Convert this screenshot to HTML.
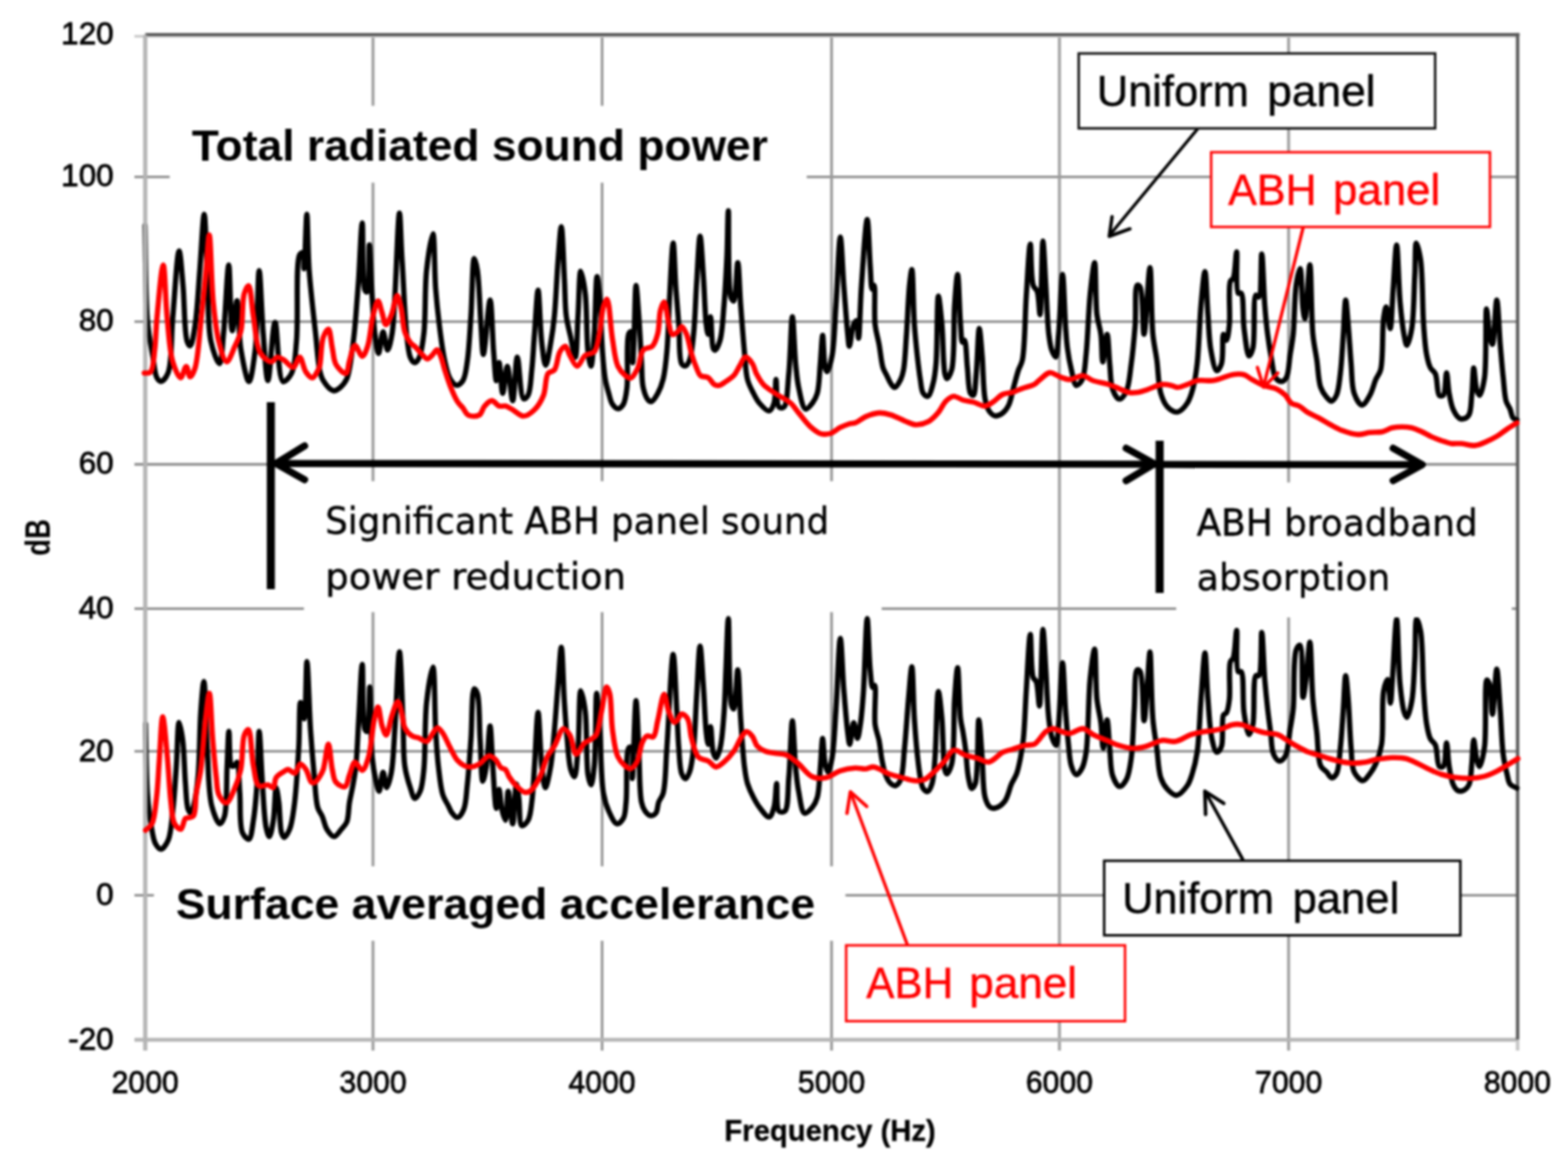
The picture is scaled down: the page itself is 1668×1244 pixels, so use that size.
<!DOCTYPE html>
<html><head><meta charset="utf-8"><title>Sound power and accelerance</title>
<style>html,body{margin:0;padding:0;background:#fff;}svg{display:block;}#w{filter:blur(1px);}</style>
</head><body><div id="w">
<svg width="1668" height="1244" viewBox="0 0 1668 1244">
<rect x="0" y="0" width="1668" height="1244" fill="#fff"/>
<line x1="143" y1="188.3" x2="1614.4" y2="188.3" stroke="#888888" stroke-width="2.6"/>
<line x1="143" y1="342.2" x2="1614.4" y2="342.2" stroke="#888888" stroke-width="2.6"/>
<line x1="143" y1="494.1" x2="1614.4" y2="494.1" stroke="#888888" stroke-width="2.6"/>
<line x1="143" y1="647.7" x2="1614.4" y2="647.7" stroke="#888888" stroke-width="2.6"/>
<line x1="143" y1="799.5" x2="1614.4" y2="799.5" stroke="#888888" stroke-width="2.6"/>
<line x1="143" y1="952.8" x2="1614.4" y2="952.8" stroke="#888888" stroke-width="2.6"/>
<line x1="143" y1="1106.5" x2="1614.4" y2="1106.5" stroke="#888888" stroke-width="2.6"/>
<line x1="396.8" y1="37.3" x2="396.8" y2="1118" stroke="#9c9c9c" stroke-width="3"/>
<line x1="640.5" y1="37.3" x2="640.5" y2="1118" stroke="#9c9c9c" stroke-width="3"/>
<line x1="884.6" y1="37.3" x2="884.6" y2="1118" stroke="#9c9c9c" stroke-width="3"/>
<line x1="1127.0" y1="37.3" x2="1127.0" y2="1118" stroke="#9c9c9c" stroke-width="3"/>
<line x1="1370.8" y1="37.3" x2="1370.8" y2="1118" stroke="#9c9c9c" stroke-width="3"/>
<line x1="143" y1="1106.5" x2="1614.4" y2="1106.5" stroke="#b4b4b4" stroke-width="4"/>
<line x1="143" y1="38.6" x2="1614.4" y2="38.6" stroke="#c8c8c8" stroke-width="2.6"/>
<line x1="154.5" y1="36.8" x2="1616.4" y2="36.8" stroke="#4c4c4c" stroke-width="3"/>
<line x1="1614.4" y1="35.3" x2="1614.4" y2="1106.5" stroke="#5a5a5a" stroke-width="3.6"/>
<line x1="1614.4" y1="1106.5" x2="1614.4" y2="1118" stroke="#c4c4c4" stroke-width="3.6"/>
<path d="M154.3,240.0C154.7,256.8 154.5,315.2 156.8,341.0C158.2,357.1 160.8,368.9 162.7,380.0C164.1,388.4 164.6,397.8 166.9,402.0C168.1,404.1 169.5,406.1 171.1,406.0C173.3,405.9 176.7,401.8 178.7,397.0C183.2,386.3 181.9,358.6 183.8,338.0C185.8,315.4 188.4,267.0 190.5,267.0C192.0,267.0 193.4,290.2 194.7,304.0C196.3,321.4 196.0,354.3 199.0,363.0C199.9,365.8 201.3,368.2 202.3,368.0C204.3,367.7 206.0,355.8 207.4,347.0C209.8,332.4 210.9,307.8 212.5,288.0C214.1,268.1 215.9,228.0 217.2,228.0C218.7,228.0 219.6,280.3 220.9,304.0C222.0,324.9 221.0,347.9 224.3,363.0C226.4,373.0 231.3,387.3 233.5,387.0C236.0,386.7 236.5,367.9 237.8,355.0C239.8,335.6 241.8,282.0 243.3,282.0C244.8,282.0 245.0,351.9 247.0,352.0C248.4,352.1 250.7,319.9 252.1,320.0C253.9,320.1 253.8,356.6 256.3,372.0C258.4,384.6 262.3,406.1 264.8,406.0C267.3,405.9 269.8,385.9 271.5,372.0C274.2,350.3 274.2,288.0 275.7,288.0C277.0,288.0 278.3,334.3 280.0,355.0C281.5,372.9 283.0,405.0 285.0,405.0C287.2,405.0 289.9,343.0 292.6,343.0C295.3,343.0 295.4,404.1 301.0,406.0C303.5,406.9 308.0,401.5 310.3,397.0C314.1,389.7 314.1,377.1 315.4,363.0C317.6,339.9 314.1,278.9 318.8,271.0C319.8,269.4 321.4,268.6 322.2,269.0C323.9,269.9 323.0,286.0 323.5,286.0C324.4,286.0 325.5,228.0 326.4,228.0C327.3,228.0 327.4,267.5 328.9,288.0C330.5,309.7 333.6,335.7 335.7,355.0C337.3,369.6 338.0,384.6 340.0,393.6C341.1,398.6 341.7,401.6 343.9,405.1C346.3,409.0 351.2,415.2 354.5,415.8C356.8,416.2 359.1,414.5 361.2,412.9C364.0,410.8 366.8,407.9 368.9,403.2C372.6,394.9 374.0,376.6 375.7,364.6C377.1,354.3 377.7,346.0 378.6,335.7C379.6,323.8 380.5,311.4 381.5,297.1C382.7,279.4 384.2,237.4 385.3,237.4C386.5,237.4 384.9,302.1 388.2,308.7C388.9,310.1 389.8,310.9 390.5,310.6C393.2,309.4 392.1,260.5 393.0,260.5C393.9,260.5 394.8,299.5 395.9,316.4C396.8,330.5 397.4,344.1 398.8,355.0C399.9,363.1 401.3,376.2 402.7,376.2C404.2,376.2 405.8,353.1 407.5,353.1C409.0,353.1 410.7,372.4 412.3,372.4C413.9,372.4 415.9,362.0 417.1,355.0C418.9,344.7 419.0,331.9 420.0,316.4C421.5,292.7 423.5,226.8 424.9,226.8C426.0,226.8 426.4,258.0 427.8,277.9C429.8,306.1 431.1,367.2 436.4,380.1C437.9,383.6 439.7,385.9 441.3,385.9C442.9,385.9 444.8,383.0 446.1,380.1C448.6,374.8 449.7,365.5 450.9,355.0C452.9,338.0 451.7,306.8 453.8,287.5C455.4,272.8 458.9,248.8 460.5,248.9C462.4,249.0 462.1,289.5 463.4,306.8C464.5,321.0 465.7,332.6 467.3,345.4C468.9,358.3 470.7,373.3 473.1,383.9C474.8,391.5 476.2,398.6 478.9,403.2C480.8,406.3 483.3,409.8 485.6,410.0C487.8,410.2 490.6,407.8 492.4,405.1C495.3,400.8 495.9,392.5 497.2,383.9C499.1,371.1 499.8,352.7 501.0,335.7C502.3,316.6 502.5,275.2 504.5,275.0C505.4,274.9 506.9,281.7 507.8,287.5C509.8,299.7 510.4,329.0 511.6,345.4C512.5,357.6 513.0,377.2 514.2,377.2C515.9,377.2 519.5,319.3 521.3,319.3C523.1,319.3 523.8,358.6 525.1,374.3C526.1,386.1 526.9,405.1 528.0,405.1C528.9,405.1 529.9,385.9 530.9,385.9C532.2,385.9 533.3,418.6 534.8,418.6C536.2,418.6 537.9,389.7 539.6,389.7C541.5,389.7 543.7,426.4 545.4,426.4C547.3,426.4 548.3,380.1 550.3,380.1C552.2,380.1 553.2,422.9 557.0,424.4C558.4,424.9 560.5,422.8 561.8,420.6C564.5,415.9 564.6,403.4 565.7,393.6C567.0,381.9 567.5,368.4 568.6,355.0C569.8,340.3 571.2,308.7 572.4,308.7C573.7,308.7 574.5,349.8 576.3,364.6C577.5,374.4 578.9,388.8 580.5,388.8C582.1,388.8 584.4,373.1 585.9,364.6C587.5,355.4 588.7,347.0 589.8,335.7C591.4,319.8 592.2,295.0 593.6,277.9C594.7,264.3 596.1,241.2 597.1,241.2C598.4,241.2 599.5,280.2 600.4,297.1C601.2,311.2 600.9,324.5 602.3,335.7C603.4,344.5 605.4,351.4 607.1,358.9C608.7,366.1 610.8,380.2 612.0,380.1C613.8,380.0 613.9,350.7 614.9,335.7C615.9,320.2 616.1,288.6 617.8,288.5C619.0,288.4 621.4,302.7 622.6,312.6C624.5,328.4 623.8,360.6 625.5,374.3C626.4,381.2 627.7,389.7 628.7,389.7C630.1,389.6 631.2,368.2 632.2,355.0C633.5,337.6 633.7,294.4 635.1,294.3C635.9,294.3 637.2,307.3 638.0,316.4C639.3,331.1 639.7,358.3 640.9,374.3C641.7,385.6 642.4,395.1 643.8,403.2C644.8,409.2 646.2,413.9 647.6,418.6C648.8,422.8 649.5,427.4 651.5,430.2C653.0,432.4 655.4,435.0 657.3,435.0C659.2,435.0 661.6,432.7 663.1,430.2C665.4,426.4 666.0,420.4 666.9,412.9C668.6,399.3 665.6,360.9 668.9,355.0C669.7,353.6 671.0,352.7 671.8,353.1C674.2,354.3 672.6,385.9 673.1,385.9C673.6,385.9 674.1,366.6 674.6,355.0C675.3,340.1 675.6,303.9 676.6,303.9C677.4,303.9 678.6,324.0 679.5,335.7C680.6,350.1 681.5,369.9 682.4,383.9C683.1,394.8 682.4,405.2 684.3,412.9C685.6,418.4 688.0,424.5 690.1,426.4C691.0,427.2 692.0,427.6 693.0,427.3C695.0,426.7 697.8,422.1 699.7,418.6C702.1,414.3 704.0,409.2 705.5,403.2C707.5,395.2 708.4,385.6 709.4,374.3C710.9,358.3 711.2,335.7 712.3,316.4C713.4,297.1 714.9,258.6 716.1,258.6C717.2,258.6 717.9,291.6 719.0,306.8C720.0,320.4 721.1,332.3 722.1,345.4C723.2,359.1 721.8,382.1 725.2,387.2C726.3,388.9 728.1,389.6 729.4,389.3C731.0,388.9 732.4,386.0 733.6,383.0C735.8,377.3 736.7,366.4 737.8,355.8C739.4,341.2 739.8,321.0 740.9,303.6C742.1,286.2 743.4,251.3 744.7,251.3C745.9,251.3 747.1,278.4 748.2,293.1C749.4,309.6 749.9,334.7 751.3,345.4C751.9,350.2 752.7,355.8 753.4,355.8C754.3,355.8 755.1,337.0 755.9,337.0C756.9,337.0 756.7,366.1 758.7,370.5C759.3,371.8 760.0,372.7 760.8,372.6C762.3,372.4 764.6,366.8 766.0,362.1C768.5,353.6 769.0,338.1 770.2,324.5C771.6,308.5 772.5,289.3 773.3,272.2C774.0,255.9 774.2,224.2 774.8,224.2C775.6,224.2 773.8,305.5 777.5,316.1C778.4,318.6 779.7,320.5 780.6,320.3C783.1,319.6 783.6,279.6 784.8,279.6C786.1,279.6 786.7,309.0 787.9,324.5C789.2,341.2 790.7,362.1 792.1,376.7C793.1,387.2 793.2,396.4 795.2,403.9C796.7,409.7 799.2,414.1 801.5,418.5C803.5,422.4 805.1,425.9 807.8,429.0C810.6,432.2 815.5,437.8 818.2,437.3C820.5,436.9 822.2,432.7 823.4,429.0C825.4,423.1 824.7,403.9 825.5,403.9C826.4,403.9 825.5,430.3 828.7,433.2C830.1,434.4 832.5,434.4 833.9,433.2C837.7,429.9 837.7,411.1 839.1,397.6C840.9,380.1 841.6,337.0 842.9,337.0C844.1,337.0 845.0,373.4 846.4,387.2C847.4,397.0 847.8,404.2 849.6,412.3C851.3,420.2 853.6,434.4 856.9,435.3C859.0,435.9 862.2,431.6 864.2,429.0C866.4,426.1 868.1,423.1 869.4,418.5C871.6,411.0 871.6,397.6 872.6,387.2C873.5,377.0 874.3,356.9 875.1,356.9C876.0,356.9 876.2,385.6 877.8,391.4C878.4,393.5 879.1,395.6 879.9,395.5C881.4,395.4 883.7,386.1 885.1,378.8C887.6,366.0 887.9,343.9 889.3,324.5C890.9,302.2 892.4,252.4 893.9,252.4C895.2,252.4 896.3,286.5 897.6,303.6C898.9,320.9 900.6,344.3 901.8,355.8C902.4,361.4 902.7,368.4 903.5,368.4C904.6,368.4 906.1,349.9 908.1,345.4C909.0,343.3 910.4,341.0 911.2,341.2C912.7,341.6 912.6,360.0 913.3,360.0C914.4,360.0 915.0,323.4 916.4,303.6C918.0,281.5 920.9,233.6 922.5,233.6C923.9,233.6 924.7,269.1 925.7,282.7C926.4,292.5 926.5,307.5 927.8,307.8C928.4,307.9 929.3,303.5 929.9,303.6C931.5,304.0 929.6,333.9 930.9,345.4C931.8,353.6 933.8,359.0 935.1,366.3C936.6,374.3 937.4,385.4 939.3,391.4C940.5,395.0 942.0,396.9 943.4,399.7C944.8,402.5 946.0,405.9 947.6,408.1C948.9,409.9 950.3,412.4 951.8,412.3C953.8,412.2 956.5,407.0 958.1,403.9C959.7,400.7 960.3,398.1 961.2,393.5C962.8,384.9 963.3,369.4 964.3,355.8C965.4,339.8 966.2,316.2 967.5,303.6C968.3,296.5 969.3,286.9 970.0,286.9C971.3,287.0 971.5,328.6 972.7,345.4C973.6,358.1 974.7,368.5 975.8,378.8C976.8,387.8 977.8,396.7 979.0,403.9C979.9,409.4 980.0,415.6 982.1,418.5C983.4,420.4 985.8,422.2 987.3,421.7C989.6,420.9 991.2,413.2 992.6,408.1C994.2,402.0 994.9,396.3 995.7,387.2C997.2,370.4 996.7,315.2 998.2,315.1C999.2,315.1 1000.9,333.9 1002.0,345.4C1003.4,360.4 1003.2,389.3 1005.1,397.6C1005.7,400.4 1006.3,402.8 1007.2,402.9C1008.5,403.0 1011.0,398.3 1012.4,393.5C1015.8,381.3 1014.2,343.2 1015.5,324.5C1016.4,311.7 1017.7,292.1 1018.7,292.1C1019.9,292.1 1020.7,332.2 1021.8,345.4C1022.5,353.3 1022.4,363.7 1023.9,364.2C1024.5,364.4 1025.4,361.9 1026.0,362.1C1027.9,362.8 1028.0,381.8 1029.1,391.4C1030.1,400.6 1030.0,414.7 1032.3,418.5C1033.2,419.9 1034.5,421.0 1035.4,420.6C1037.5,419.6 1037.6,406.7 1038.5,397.6C1039.8,384.5 1040.5,349.6 1041.7,349.6C1042.6,349.6 1043.9,368.0 1044.8,378.8C1046.0,392.4 1045.8,414.4 1047.9,424.8C1049.0,430.4 1050.0,434.2 1052.1,437.3C1053.8,439.7 1056.0,442.2 1058.4,442.6C1060.9,443.0 1064.3,441.2 1066.7,439.4C1069.3,437.5 1071.3,434.6 1073.0,431.1C1075.4,426.3 1076.5,418.6 1078.2,412.3C1080.0,406.0 1081.7,398.8 1083.5,393.5C1084.9,389.5 1086.5,388.2 1087.6,383.0C1090.4,370.2 1090.3,335.6 1091.8,314.0C1093.1,294.8 1094.7,259.7 1096.0,259.7C1097.1,259.7 1096.4,295.7 1099.1,303.6C1100.2,306.9 1102.2,306.9 1103.3,309.9C1105.3,315.3 1105.5,334.9 1106.4,334.9C1107.9,334.8 1108.2,256.6 1109.4,256.6C1110.3,256.6 1111.5,287.5 1112.5,303.6C1113.6,320.5 1114.2,343.2 1115.7,355.8C1116.6,363.0 1117.2,368.3 1118.8,372.6C1119.9,375.7 1121.9,380.1 1123.0,379.9C1124.9,379.5 1125.1,365.8 1126.1,355.8C1127.7,339.6 1129.0,292.1 1130.3,292.1C1131.5,292.1 1132.4,330.9 1133.4,345.4C1134.1,355.3 1134.4,362.3 1135.5,370.5C1136.5,378.4 1138.0,386.5 1139.7,393.5C1141.2,399.6 1142.5,409.6 1144.9,410.2C1146.6,410.6 1149.6,407.1 1151.2,403.9C1154.1,398.3 1154.2,387.7 1155.4,376.7C1157.2,360.1 1157.8,331.8 1159.6,314.0C1161.0,300.8 1163.2,279.5 1164.4,279.6C1165.9,279.7 1165.2,320.9 1166.9,334.9C1168.0,343.6 1170.1,348.2 1171.1,355.8C1172.3,364.7 1172.0,385.1 1173.1,385.1C1174.2,385.1 1176.5,355.8 1177.7,355.8C1179.0,355.8 1179.5,377.1 1180.5,387.2C1181.5,396.6 1181.1,407.7 1183.6,414.4C1185.3,419.0 1188.4,424.7 1190.9,424.8C1193.3,424.9 1196.3,420.4 1198.2,416.4C1201.3,409.9 1201.9,397.8 1203.4,387.2C1205.2,374.5 1206.5,359.3 1207.6,345.4C1208.6,331.5 1206.8,305.1 1209.7,303.6C1210.6,303.2 1212.0,304.2 1212.9,305.7C1216.2,311.3 1215.5,355.8 1217.0,355.8C1218.8,355.8 1221.7,284.8 1223.3,284.8C1224.9,284.8 1224.6,337.7 1226.4,355.8C1227.5,367.0 1229.3,373.3 1230.6,383.0C1232.1,394.0 1232.1,409.4 1234.8,418.5C1236.6,424.7 1238.7,429.8 1242.1,433.2C1244.9,436.0 1249.3,438.9 1252.6,438.4C1256.3,437.9 1260.3,433.0 1263.0,429.0C1266.1,424.5 1267.6,418.5 1269.3,412.3C1271.3,404.9 1272.3,397.5 1273.5,387.2C1275.4,371.0 1276.0,342.4 1277.6,324.5C1278.8,311.0 1280.6,289.0 1281.8,289.0C1283.1,289.0 1283.9,320.4 1285.0,334.9C1286.0,348.1 1286.1,361.8 1288.1,372.6C1289.6,381.0 1291.9,394.1 1294.4,394.5C1295.9,394.7 1298.2,390.7 1299.4,387.2C1301.7,380.6 1299.8,356.1 1301.5,355.8C1302.3,355.6 1303.7,362.2 1304.6,362.1C1306.0,361.9 1307.1,352.4 1307.8,345.4C1309.0,333.9 1306.2,305.6 1308.8,299.4C1309.6,297.5 1311.0,298.1 1311.9,296.3C1314.1,291.8 1314.6,268.1 1315.5,268.1C1316.6,268.1 1314.0,308.9 1317.2,312.0C1318.0,312.8 1319.4,311.2 1320.3,312.0C1323.3,314.8 1321.9,337.9 1323.4,349.6C1324.8,360.0 1326.5,378.5 1328.7,378.8C1329.9,379.0 1331.7,374.7 1332.8,370.5C1335.5,360.2 1332.6,315.7 1336.0,314.0C1336.9,313.6 1338.2,316.5 1339.1,316.1C1342.1,314.6 1341.2,270.2 1342.2,270.2C1343.3,270.2 1344.2,308.9 1345.4,324.5C1346.3,336.4 1347.2,345.7 1348.5,355.8C1349.7,365.2 1351.2,374.8 1352.7,383.0C1354.0,389.9 1354.3,398.0 1356.9,401.8C1358.5,404.2 1361.1,406.1 1363.1,406.0C1365.0,405.9 1367.0,404.2 1368.4,401.8C1371.1,397.2 1371.2,384.7 1372.5,376.7C1373.7,369.4 1374.8,364.4 1375.7,355.8C1377.1,342.3 1376.9,316.4 1378.8,303.6C1379.9,296.0 1381.9,285.7 1383.0,285.8C1384.7,285.9 1384.8,319.3 1386.1,328.7C1386.7,333.4 1387.5,339.1 1388.2,339.1C1389.9,339.0 1392.0,281.7 1393.4,281.7C1394.9,281.7 1394.8,337.2 1396.6,355.8C1397.7,367.1 1399.4,373.8 1400.8,383.0C1402.2,392.6 1402.4,405.2 1404.9,412.3C1406.5,416.9 1409.0,420.1 1411.2,422.7C1412.9,424.6 1414.7,427.1 1416.4,426.9C1418.2,426.7 1420.3,423.6 1421.7,420.6C1424.1,415.5 1424.7,406.4 1425.8,397.6C1427.3,385.8 1428.0,369.3 1429.0,355.8C1429.9,343.2 1430.5,319.3 1431.5,319.3C1432.3,319.3 1433.3,335.7 1434.2,345.4C1435.3,357.7 1436.2,374.3 1437.3,387.2C1438.3,398.4 1437.7,410.6 1440.5,418.5C1442.4,423.9 1445.9,431.0 1448.8,431.1C1451.5,431.2 1454.9,424.7 1457.2,420.6C1459.9,415.9 1461.4,408.8 1463.5,403.9C1465.2,400.0 1467.4,398.5 1468.7,393.5C1471.6,382.6 1470.2,350.8 1471.8,339.1C1472.6,333.4 1473.6,326.6 1474.6,326.6C1475.9,326.6 1477.7,349.8 1478.8,349.7C1480.3,349.6 1480.9,322.2 1482.0,307.8C1483.2,292.6 1484.5,260.8 1485.7,260.8C1487.0,260.8 1487.8,303.1 1489.3,320.4C1490.5,333.8 1491.9,347.4 1493.5,355.9C1494.5,360.8 1495.4,367.4 1496.6,367.4C1498.1,367.4 1500.5,357.4 1501.8,349.7C1504.1,336.3 1504.1,309.7 1505.0,293.2C1505.7,280.3 1505.2,258.8 1506.6,258.7C1507.7,258.6 1510.0,268.5 1511.2,276.5C1513.5,291.9 1513.1,327.0 1514.4,345.5C1515.3,358.0 1515.9,368.4 1517.5,376.8C1518.6,382.7 1519.7,387.8 1521.7,391.5C1523.1,394.2 1525.5,394.8 1526.9,397.8C1529.3,402.9 1528.4,418.5 1531.1,420.8C1532.3,421.8 1534.2,421.8 1535.3,420.8C1538.0,418.4 1537.7,396.7 1538.8,396.7C1539.8,396.7 1540.3,411.9 1541.6,418.7C1542.7,424.7 1543.7,430.8 1545.7,435.4C1547.4,439.2 1549.8,443.3 1552.0,444.8C1553.4,445.7 1554.7,446.1 1556.2,445.8C1558.2,445.5 1561.0,444.1 1562.5,441.7C1565.1,437.7 1564.8,428.4 1565.6,420.8C1566.6,411.9 1566.8,391.5 1567.7,391.5C1568.5,391.5 1569.2,409.3 1570.8,414.5C1571.7,417.4 1572.9,420.9 1574.0,420.8C1575.8,420.6 1577.9,410.4 1579.2,401.9C1581.6,385.6 1579.9,328.8 1581.3,328.7C1582.1,328.7 1583.1,346.9 1584.4,353.8C1585.3,358.8 1586.6,366.5 1587.6,366.4C1589.5,366.3 1590.8,319.3 1592.2,319.3C1593.6,319.3 1594.7,351.8 1595.9,366.4C1597.0,379.1 1597.9,391.1 1599.1,401.9C1600.1,411.0 1600.4,421.0 1602.2,427.0C1603.3,430.7 1605.2,432.5 1606.4,435.4C1607.6,438.4 1607.9,442.9 1609.5,444.8C1610.6,446.1 1613.0,446.6 1613.7,446.9" fill="none" stroke="#000" stroke-width="5.6" stroke-linejoin="round" stroke-linecap="round"/>
<path d="M154.8,770.6C155.1,782.8 155.4,824.3 156.8,843.9C157.7,857.0 158.9,867.0 160.6,876.7C161.9,884.6 162.8,893.3 165.4,897.9C167.0,900.7 169.2,903.8 171.2,903.7C173.7,903.6 176.9,898.6 178.9,894.1C182.0,887.0 182.4,874.7 183.8,863.2C185.5,848.9 186.5,830.9 187.6,815.0C188.7,799.4 188.9,768.8 190.5,768.7C191.5,768.6 193.4,780.1 194.4,788.0C196.0,800.1 196.2,820.9 197.3,834.3C198.1,844.5 198.2,856.5 200.1,861.3C200.9,863.3 202.1,865.2 203.0,865.1C204.4,864.9 205.8,858.4 206.9,853.6C208.6,846.2 209.8,836.3 210.8,824.6C212.4,806.8 212.3,775.4 213.6,757.1C214.5,744.5 215.9,725.3 216.9,725.3C218.3,725.3 219.0,773.0 220.4,795.7C221.8,817.0 221.5,842.9 225.2,857.4C227.4,865.9 231.3,876.5 233.9,876.7C235.6,876.8 237.4,873.0 238.7,869.0C241.8,859.3 240.7,831.3 241.6,815.0C242.3,801.6 242.7,778.4 243.5,778.4C244.3,778.4 243.5,812.3 246.4,815.0C247.2,815.8 248.4,815.4 249.3,815.0C250.4,814.4 251.4,810.9 252.2,811.1C254.3,811.7 254.2,832.3 255.1,843.9C256.1,857.1 254.4,878.6 258.0,886.4C259.7,890.1 263.0,893.6 264.8,893.1C267.4,892.3 268.3,880.8 269.6,872.9C271.4,862.1 272.4,848.4 273.4,834.3C274.6,817.4 274.7,778.4 275.7,778.4C276.7,778.4 277.9,816.6 279.2,834.3C280.4,850.5 281.0,871.0 283.1,880.6C284.1,885.1 285.4,890.3 286.5,890.2C288.0,890.1 289.7,879.7 290.8,872.9C292.4,863.4 292.5,838.2 293.7,838.1C294.5,838.1 295.8,847.5 296.6,853.6C297.8,862.5 297.6,880.5 299.5,886.4C300.3,888.9 301.3,891.2 302.4,891.2C304.0,891.2 306.5,886.3 308.1,882.5C310.6,876.5 311.6,867.7 313.0,857.4C315.2,841.4 316.7,815.0 317.8,795.7C318.8,778.7 318.1,747.6 319.7,747.5C320.7,747.4 322.6,765.0 323.6,764.9C325.5,764.7 325.4,704.1 326.5,704.1C327.7,704.1 328.9,754.7 330.3,776.4C331.5,794.1 332.8,809.8 334.2,824.6C335.4,837.2 335.7,851.6 338.0,859.4C339.3,863.8 341.4,865.5 342.9,869.0C344.7,873.1 345.4,878.8 347.7,882.5C349.7,885.7 352.8,890.2 355.4,890.2C358.0,890.2 360.8,885.1 363.1,882.5C365.3,880.0 367.5,878.2 368.9,874.8C371.0,869.7 370.6,860.5 371.8,853.6C372.9,847.0 374.6,840.7 375.7,834.3C376.8,827.9 377.8,822.9 378.6,815.0C379.9,802.6 380.5,783.7 381.5,766.8C382.7,747.9 384.2,707.0 385.3,707.0C386.5,707.0 385.0,769.8 388.2,776.4C388.9,777.8 389.8,778.7 390.5,778.4C393.1,777.3 392.6,731.1 393.4,731.1C394.4,731.1 394.2,787.3 395.9,805.4C396.9,816.0 398.3,823.7 399.8,830.4C400.9,835.0 402.2,842.0 403.3,842.0C404.8,841.9 406.1,821.8 407.5,821.8C408.8,821.8 409.9,838.1 411.4,838.1C412.8,838.1 414.9,829.3 416.2,822.7C418.4,811.5 418.8,794.1 420.0,776.4C421.7,752.8 423.4,693.5 424.9,693.5C426.3,693.5 427.7,744.9 428.7,766.8C429.5,784.5 428.7,801.9 430.6,815.0C431.9,824.2 434.3,831.8 436.4,838.1C437.9,842.7 439.4,849.5 441.3,849.7C443.0,849.9 445.5,845.5 447.0,842.0C449.3,836.5 449.9,828.8 450.9,818.9C452.7,801.7 451.6,767.5 453.8,747.5C455.4,732.9 458.9,709.8 460.5,709.9C462.6,710.0 462.3,757.2 463.4,776.4C464.3,791.0 464.9,802.9 466.3,815.0C467.6,825.9 468.6,838.2 471.1,845.9C472.7,850.8 475.2,854.0 476.9,857.4C478.3,860.2 479.1,863.0 480.8,865.1C482.4,867.1 484.7,870.2 486.6,870.0C488.9,869.8 491.6,865.3 493.3,861.3C496.0,855.0 496.0,844.6 497.2,834.3C498.7,820.6 499.8,802.6 501.0,786.1C502.2,768.8 501.7,733.7 504.5,733.0C505.4,732.8 506.9,735.2 507.8,737.9C510.4,745.5 509.7,770.3 510.7,786.1C511.7,801.4 511.9,831.3 513.6,831.4C514.6,831.5 516.3,821.8 517.4,815.0C519.1,804.2 520.2,772.6 521.3,772.6C522.4,772.6 523.1,800.6 524.2,815.0C525.3,829.9 526.6,860.3 528.0,860.3C528.9,860.3 529.9,840.1 530.9,840.1C531.9,840.1 532.5,855.3 533.9,861.3C534.9,865.8 536.7,873.0 537.7,872.9C539.3,872.7 539.4,842.0 540.6,842.0C541.9,842.0 544.0,876.7 545.4,876.7C546.9,876.7 547.9,834.4 549.3,834.3C550.2,834.3 551.2,844.0 552.0,850.0C553.1,858.1 552.1,877.5 555.1,878.7C556.7,879.3 560.1,875.8 561.8,872.9C564.3,868.6 564.7,861.2 565.7,853.6C567.2,843.0 567.6,829.1 568.6,815.0C569.8,797.9 571.1,758.1 572.4,758.1C573.7,758.1 574.6,800.3 576.3,815.0C577.4,824.4 578.5,838.0 580.1,838.1C581.7,838.2 584.4,823.7 585.9,815.0C587.9,803.8 588.6,790.0 589.8,776.4C591.2,761.2 592.3,743.5 593.6,728.2C594.8,714.4 596.1,688.7 597.1,688.7C598.4,688.7 599.2,730.0 600.4,747.5C601.3,761.7 602.1,773.8 603.3,786.1C604.4,797.5 605.0,811.9 607.1,818.9C608.2,822.5 609.9,826.8 611.0,826.6C613.1,826.2 613.9,807.7 614.9,795.7C616.4,778.9 615.8,735.2 617.8,735.0C619.0,734.9 621.4,747.7 622.6,757.1C624.7,773.4 623.4,811.9 625.5,824.6C626.4,829.8 627.7,835.4 628.7,835.3C630.0,835.2 631.3,824.0 632.2,815.0C634.0,797.6 633.4,737.9 634.7,737.9C635.6,737.9 637.0,761.8 638.0,776.4C639.4,795.8 639.2,828.3 641.9,843.9C643.4,852.4 645.0,857.5 647.6,863.2C649.9,868.3 653.3,876.3 656.3,876.7C658.5,877.0 661.5,873.7 663.1,870.9C665.4,866.9 665.2,861.1 666.0,853.6C667.5,840.0 665.2,799.2 668.9,795.7C669.7,794.9 671.0,795.0 671.8,795.7C674.4,798.2 672.2,828.5 672.7,828.5C673.5,828.5 675.3,745.6 676.6,745.6C677.6,745.6 678.6,778.4 679.5,795.7C680.5,814.3 680.0,842.5 682.4,853.6C683.4,858.3 684.4,860.7 686.2,863.2C687.7,865.3 690.0,867.8 692.0,868.0C693.9,868.2 696.4,866.9 697.8,865.1C699.7,862.7 699.4,857.2 700.7,853.6C702.0,850.2 704.2,848.5 705.5,843.9C708.2,834.1 708.0,814.6 709.4,795.7C711.4,768.5 714.2,696.4 716.1,696.4C717.6,696.4 718.9,739.1 720.0,757.1C720.9,771.6 721.1,784.4 722.1,796.3C722.9,806.2 723.0,818.2 725.2,823.5C726.3,826.1 728.1,828.8 729.4,828.7C730.9,828.6 732.4,824.7 733.6,821.4C735.7,815.7 736.7,806.2 737.8,796.3C739.4,782.1 739.8,761.8 740.9,744.0C742.1,725.6 743.4,687.6 744.7,687.6C745.8,687.6 747.1,714.8 748.2,729.4C749.4,745.4 750.0,768.5 751.3,779.6C751.9,785.2 752.7,792.1 753.4,792.1C754.2,792.1 755.1,773.3 755.9,773.3C756.9,773.3 757.0,794.7 758.7,800.5C759.5,803.4 760.7,806.7 761.8,806.7C763.2,806.6 764.8,801.0 766.0,796.3C768.2,787.8 769.2,771.9 770.2,758.7C771.3,744.2 771.5,728.7 772.2,712.7C773.0,695.3 773.9,658.4 774.8,658.4C775.9,658.4 775.0,739.6 778.1,750.3C778.8,752.8 779.9,754.7 780.6,754.5C782.8,754.0 783.6,712.7 784.8,712.7C786.1,712.7 786.7,747.5 787.9,764.9C789.1,782.3 790.4,804.6 792.1,817.2C793.0,824.3 793.6,828.6 795.2,833.9C796.8,839.0 799.2,844.1 801.5,848.5C803.5,852.4 805.2,855.7 807.8,859.0C810.7,862.7 815.5,869.8 818.2,869.4C820.6,869.0 822.1,863.4 823.4,859.0C825.3,852.6 825.3,833.9 826.2,833.9C827.1,833.9 825.4,860.1 828.7,863.2C830.2,864.6 833.3,864.6 834.9,863.2C838.8,859.7 837.9,841.1 839.1,827.6C840.7,810.1 841.6,767.0 842.9,767.0C844.1,767.0 845.0,803.4 846.4,817.2C847.4,827.0 848.0,834.2 849.6,842.3C851.2,850.2 852.4,864.1 855.8,865.3C858.0,866.1 862.0,861.7 864.2,859.0C866.6,856.2 868.1,853.1 869.4,848.5C871.6,841.0 871.7,827.6 872.6,817.2C873.6,806.7 874.2,785.8 875.1,785.8C875.9,785.8 876.3,806.6 877.8,813.0C878.6,816.7 879.9,821.4 880.9,821.4C882.3,821.3 883.9,813.2 885.1,806.7C887.3,794.7 888.0,773.5 889.3,754.5C890.9,731.7 892.4,679.3 893.9,679.3C895.2,679.3 896.2,716.3 897.6,733.6C898.9,749.6 900.4,769.1 901.8,779.6C902.5,785.1 903.1,792.1 903.9,792.1C905.0,792.1 906.6,769.1 908.1,769.1C909.4,769.1 910.9,785.8 912.1,785.8C913.2,785.8 914.3,777.1 915.2,771.2C916.6,762.4 917.4,751.3 918.4,737.8C919.9,717.0 921.2,658.4 922.5,658.4C923.6,658.4 924.3,699.3 925.7,712.7C926.5,720.6 926.9,731.0 928.4,731.5C929.0,731.7 929.9,729.2 930.5,729.4C932.6,730.3 929.5,760.5 930.9,771.2C931.8,778.1 933.9,782.0 935.1,787.9C936.4,794.4 936.9,802.3 938.2,808.8C939.4,814.7 940.5,821.0 942.4,825.5C943.8,828.9 945.5,832.2 947.6,833.9C949.1,835.2 951.2,836.4 952.8,836.0C954.7,835.5 956.7,832.9 958.1,829.7C960.9,823.2 960.9,808.7 962.2,796.3C963.8,780.8 965.0,759.6 966.4,744.0C967.6,731.3 969.0,709.6 970.0,709.6C971.2,709.6 971.6,748.2 972.7,764.9C973.6,778.7 974.6,791.3 975.8,802.6C976.8,811.8 977.7,820.9 979.0,827.6C979.9,832.2 980.3,836.6 982.1,839.1C983.3,840.8 985.5,842.6 986.9,842.3C988.7,841.9 990.3,837.7 991.5,833.9C993.5,827.6 993.7,817.9 994.6,806.7C996.1,788.6 996.5,735.8 998.2,735.7C999.3,735.7 1000.9,753.6 1002.0,764.9C1003.4,780.2 1003.0,811.5 1005.1,819.3C1005.7,821.6 1006.3,823.5 1007.2,823.5C1008.5,823.5 1011.0,818.2 1012.4,813.0C1015.7,800.3 1014.2,762.9 1015.5,744.0C1016.4,730.9 1017.7,710.6 1018.7,710.6C1019.9,710.6 1020.3,752.5 1021.8,764.9C1022.6,771.4 1023.7,774.5 1024.5,779.6C1025.4,785.0 1026.2,789.9 1027.0,796.3C1028.1,805.1 1028.6,819.8 1030.2,827.6C1031.2,832.4 1032.2,838.8 1033.7,839.1C1034.8,839.3 1036.4,836.9 1037.5,833.9C1040.9,824.3 1039.8,766.0 1041.2,766.0C1042.3,766.0 1043.7,793.0 1044.8,806.7C1045.9,820.5 1045.4,839.4 1047.9,848.5C1049.2,853.3 1050.9,857.3 1053.2,859.0C1054.7,860.1 1056.5,860.4 1058.4,860.0C1061.4,859.4 1066.0,856.3 1068.8,852.7C1072.3,848.2 1073.7,839.2 1076.1,833.9C1077.9,829.9 1079.9,827.5 1081.4,823.5C1083.2,818.7 1084.3,812.6 1085.5,806.7C1086.8,800.1 1087.8,794.4 1088.7,785.8C1090.1,772.3 1090.6,751.5 1091.8,733.6C1093.0,714.7 1094.7,675.1 1096.0,675.1C1097.1,675.1 1096.5,714.2 1099.1,721.1C1100.0,723.4 1101.4,723.1 1102.3,725.2C1104.3,730.0 1104.8,751.4 1105.8,751.4C1107.5,751.3 1108.1,669.9 1109.4,669.9C1110.4,669.9 1111.5,697.7 1112.5,712.7C1113.6,729.2 1114.2,751.9 1115.7,764.9C1116.6,772.8 1117.2,778.7 1118.8,783.8C1120.0,787.6 1122.2,793.4 1123.4,793.2C1125.1,792.9 1125.2,780.5 1126.1,771.2C1127.6,755.1 1129.0,705.4 1130.3,705.4C1131.4,705.4 1132.3,739.2 1133.4,754.5C1134.4,767.9 1135.4,781.1 1136.6,792.1C1137.5,800.7 1137.8,809.3 1139.7,815.1C1141.0,819.1 1142.9,824.3 1144.9,824.5C1146.8,824.7 1149.6,820.4 1151.2,817.2C1153.4,813.0 1154.2,808.2 1155.4,800.5C1157.9,784.2 1157.6,743.3 1159.6,723.1C1160.9,710.0 1163.2,690.7 1164.4,690.8C1165.9,690.9 1165.4,729.6 1166.9,744.0C1168.0,754.0 1170.0,760.5 1171.1,769.1C1172.2,778.0 1172.5,796.3 1173.6,796.3C1174.7,796.3 1176.5,766.0 1177.7,766.0C1178.8,766.0 1179.5,786.3 1180.5,796.3C1181.5,806.1 1181.1,818.2 1183.6,825.5C1185.3,830.5 1188.3,836.7 1190.9,837.0C1193.2,837.3 1196.3,833.2 1198.2,829.7C1201.1,824.4 1202.1,816.0 1203.4,806.7C1205.4,792.9 1205.5,770.9 1206.6,754.5C1207.6,739.8 1206.7,714.2 1209.7,712.7C1210.6,712.3 1212.0,713.2 1212.9,714.8C1216.3,720.5 1215.7,767.0 1217.0,767.0C1218.1,767.0 1219.2,745.2 1220.2,733.6C1221.3,720.9 1222.4,693.9 1223.3,693.9C1224.5,693.9 1224.7,746.0 1226.4,764.9C1227.5,777.5 1229.2,785.8 1230.6,796.3C1232.0,806.7 1232.1,819.7 1234.8,827.6C1236.6,833.0 1239.1,837.0 1242.1,840.2C1244.8,843.0 1248.3,846.6 1251.5,846.4C1255.2,846.1 1260.2,840.0 1263.0,836.0C1265.6,832.3 1266.6,828.4 1268.2,823.5C1270.3,817.1 1272.1,809.9 1273.5,800.5C1275.7,785.9 1276.2,762.2 1277.6,744.0C1278.9,727.1 1280.6,694.9 1281.8,694.9C1283.0,694.9 1283.7,728.3 1285.0,744.0C1286.2,758.5 1286.8,775.5 1289.1,785.8C1290.5,792.1 1292.3,800.2 1294.4,800.5C1295.9,800.7 1298.2,797.4 1299.4,794.2C1301.9,787.7 1299.0,765.2 1301.5,760.8C1302.3,759.3 1303.7,760.0 1304.6,758.7C1306.3,756.1 1307.1,750.1 1307.8,744.0C1309.0,734.0 1306.6,710.6 1308.8,704.3C1309.6,702.0 1311.0,702.4 1311.9,700.2C1314.0,695.0 1314.6,670.9 1315.5,670.9C1316.6,670.9 1314.0,711.7 1317.2,714.8C1318.0,715.6 1319.4,714.0 1320.3,714.8C1323.6,717.9 1321.6,746.5 1323.4,758.7C1324.7,767.7 1326.8,781.6 1328.7,781.7C1330.0,781.8 1331.7,776.2 1332.8,771.2C1335.1,760.5 1332.4,722.4 1336.0,719.0C1336.9,718.2 1338.2,719.8 1339.1,719.0C1342.5,715.8 1341.2,673.0 1342.2,673.0C1343.3,673.0 1344.2,708.4 1345.4,723.1C1346.4,734.8 1347.4,744.6 1348.5,754.5C1349.5,763.3 1350.6,771.4 1351.7,779.6C1352.7,787.4 1352.4,797.3 1354.8,802.6C1356.3,806.0 1358.9,809.7 1361.1,809.9C1363.1,810.1 1365.6,807.6 1367.3,804.7C1370.5,799.2 1371.0,784.4 1372.5,775.4C1373.7,767.9 1374.8,763.4 1375.7,754.5C1377.2,739.2 1375.3,700.9 1378.8,691.8C1379.9,688.8 1381.9,686.2 1383.0,686.6C1386.3,687.7 1384.6,741.9 1386.1,742.0C1387.0,742.1 1388.3,730.6 1389.3,723.1C1390.8,712.3 1392.3,683.4 1393.4,683.4C1394.8,683.4 1395.1,726.5 1396.6,744.0C1397.7,757.5 1399.4,767.7 1400.8,779.6C1402.2,791.4 1401.6,808.4 1404.9,815.1C1406.5,818.5 1409.2,819.3 1411.2,821.4C1413.1,823.4 1414.6,827.4 1416.4,827.6C1418.1,827.8 1420.3,825.9 1421.7,823.5C1424.5,818.6 1424.7,806.4 1425.8,796.3C1427.2,783.9 1428.0,767.9 1429.0,754.5C1429.9,742.2 1430.5,719.0 1431.5,719.0C1432.3,719.0 1433.4,734.1 1434.2,744.0C1435.4,758.2 1436.0,782.0 1437.3,796.3C1438.2,806.2 1437.5,815.4 1440.5,821.4C1442.6,825.8 1447.0,830.8 1449.9,830.8C1452.5,830.8 1455.0,826.3 1457.2,823.5C1459.6,820.4 1461.6,817.2 1463.5,813.0C1466.0,807.3 1468.3,800.9 1469.7,792.1C1472.0,778.0 1469.6,747.7 1471.8,735.7C1472.9,729.9 1474.9,723.0 1476.0,723.1C1477.6,723.3 1478.2,748.2 1479.1,748.2C1480.0,748.2 1480.4,733.4 1481.2,723.1C1482.5,706.6 1484.4,658.8 1485.7,658.8C1487.1,658.8 1487.5,709.7 1489.3,727.8C1490.5,739.7 1491.6,751.0 1493.5,757.1C1494.4,760.1 1495.5,763.5 1496.6,763.4C1498.3,763.3 1500.5,753.6 1501.8,746.6C1503.9,735.5 1504.1,717.3 1505.0,702.7C1505.9,688.1 1505.1,659.1 1507.0,658.8C1508.0,658.7 1510.1,665.5 1511.2,671.4C1513.6,684.2 1513.2,716.1 1514.4,734.1C1515.3,747.6 1515.9,760.1 1517.5,769.7C1518.6,776.4 1519.6,782.3 1521.7,786.4C1523.1,789.2 1525.5,789.7 1526.9,792.7C1529.3,797.8 1528.4,813.4 1531.1,815.7C1532.3,816.7 1534.2,816.7 1535.3,815.7C1538.1,813.3 1537.7,790.6 1538.8,790.6C1539.8,790.6 1540.3,808.0 1541.6,815.7C1542.7,822.4 1543.8,830.0 1545.7,834.5C1546.9,837.3 1548.2,839.6 1550.0,840.8C1551.5,841.8 1553.4,842.3 1555.1,841.8C1557.5,841.2 1560.7,838.7 1562.5,835.5C1565.1,830.7 1564.8,821.2 1565.6,813.6C1566.5,805.3 1566.7,787.4 1567.7,787.4C1568.5,787.4 1569.4,802.1 1570.8,807.3C1571.7,810.8 1572.9,815.8 1574.0,815.7C1575.7,815.6 1577.9,803.9 1579.2,794.7C1581.5,778.1 1578.8,724.4 1581.7,723.6C1582.5,723.4 1583.6,725.6 1584.4,727.8C1586.4,733.4 1586.4,760.2 1587.6,760.2C1589.0,760.2 1590.8,712.1 1592.2,712.1C1593.5,712.1 1594.8,740.3 1595.9,755.0C1597.1,770.6 1597.4,790.4 1599.1,803.1C1600.2,811.5 1601.8,818.3 1603.2,824.0C1604.2,828.1 1604.4,832.0 1606.4,834.5C1608.1,836.7 1612.5,838.0 1613.7,838.7" fill="none" stroke="#000" stroke-width="5.6" stroke-linejoin="round" stroke-linecap="round"/>
<line x1="154.5" y1="37.3" x2="154.5" y2="1118" stroke="#b4b4b4" stroke-width="4.4"/>
<path d="M153.4,397.0C154.5,396.8 158.4,397.7 160.1,396.0C163.4,392.8 163.5,380.7 164.6,372.0C165.9,361.7 165.8,350.7 167.0,338.0C168.5,321.6 171.8,282.0 173.6,282.0C175.4,282.0 176.0,320.2 177.8,338.0C179.5,354.4 180.3,373.4 183.8,385.0C186.0,392.3 189.6,402.0 192.2,402.0C194.3,402.0 196.4,389.9 198.1,390.0C199.7,390.1 200.7,400.9 202.3,401.0C203.8,401.1 205.9,396.5 207.4,392.0C210.8,381.7 212.1,355.7 214.1,338.0C216.0,321.0 217.7,303.5 219.2,288.0C220.5,274.5 221.5,250.0 222.6,250.0C224.1,250.0 224.8,300.5 226.8,321.0C228.4,336.9 229.7,351.4 232.7,363.0C234.9,371.7 238.1,384.8 241.1,385.0C243.8,385.2 247.1,374.5 249.6,369.0C252.1,363.5 254.7,359.0 256.3,352.0C258.7,341.8 257.3,321.3 259.7,313.0C260.9,308.8 263.0,303.8 264.4,304.0C266.9,304.4 267.8,326.4 269.8,338.0C271.9,350.1 272.0,367.0 276.6,375.0C279.6,380.1 285.0,384.9 288.4,385.0C290.9,385.1 292.8,380.3 295.1,380.0C297.3,379.8 299.5,381.6 301.9,383.0C305.0,384.9 309.2,391.5 312.0,391.0C314.8,390.5 316.7,379.8 318.8,380.0C321.2,380.2 322.7,392.2 325.5,396.0C327.5,398.8 330.3,402.2 332.3,402.0C334.2,401.9 336.0,398.1 337.3,396.0C338.5,394.0 339.2,392.7 340.0,389.7C341.7,383.4 341.4,365.9 343.9,358.9C345.3,354.9 347.8,349.9 349.3,350.2C351.4,350.6 352.1,363.9 353.5,370.4C354.8,376.4 354.7,383.2 357.4,387.8C359.8,391.9 365.6,398.1 368.0,397.4C370.4,396.7 370.3,388.6 371.8,383.9C373.5,378.7 375.2,367.8 377.6,367.5C379.8,367.2 383.0,379.2 385.3,379.1C387.5,379.0 389.5,373.2 391.1,368.5C393.8,360.7 394.6,344.5 396.9,335.7C398.5,329.5 400.4,320.3 402.1,320.3C403.6,320.3 405.1,328.8 406.5,333.0C407.9,337.1 408.7,345.2 410.4,345.4C412.0,345.6 414.4,339.7 416.2,335.7C418.7,330.1 420.6,314.5 422.5,314.5C424.0,314.5 425.6,322.8 426.8,328.0C428.4,335.0 428.5,346.5 430.6,353.1C432.1,357.8 434.1,361.7 436.4,364.6C438.1,366.8 440.3,367.7 442.2,369.5C444.2,371.5 445.9,374.1 448.0,376.2C450.1,378.3 452.7,382.0 454.8,382.0C456.5,382.0 458.0,379.6 459.6,378.1C461.4,376.4 463.4,372.2 465.0,372.4C466.7,372.6 468.0,377.1 469.2,380.1C470.8,383.9 471.5,388.7 473.1,393.6C475.0,399.5 477.4,407.0 479.8,412.9C481.9,418.1 484.2,423.5 486.6,427.3C488.4,430.1 490.5,431.7 492.4,434.1C494.4,436.6 495.4,440.5 498.1,441.8C501.0,443.3 506.8,443.4 509.7,441.8C512.6,440.2 513.1,434.7 515.5,432.1C517.7,429.7 520.6,426.4 523.2,426.4C525.8,426.4 528.3,431.2 530.9,432.1C533.1,432.8 535.4,431.6 537.7,432.1C540.3,432.7 542.6,434.5 545.4,436.0C548.9,437.9 553.1,442.8 557.0,442.8C560.9,442.8 565.2,439.3 568.6,436.0C572.5,432.2 575.8,426.5 578.2,420.6C580.9,413.9 579.9,401.6 583.0,397.4C584.8,395.0 587.9,395.9 589.8,393.6C592.8,389.9 593.0,378.7 595.6,374.3C597.3,371.5 599.7,368.2 601.4,368.5C603.3,368.8 604.3,374.8 606.2,378.1C608.4,381.8 611.2,389.6 613.9,389.7C616.7,389.8 619.2,380.7 622.6,378.1C625.5,375.9 629.8,377.0 632.2,374.3C635.8,370.3 636.4,360.6 638.0,353.1C639.7,344.7 640.0,332.3 641.9,326.1C643.0,322.6 644.6,318.2 645.7,318.4C648.3,318.8 649.4,348.0 651.5,360.8C653.3,371.4 654.1,382.9 657.3,389.7C659.4,394.1 662.4,397.3 665.0,399.4C666.9,400.9 668.9,402.8 670.8,402.3C673.5,401.6 676.4,396.0 678.5,391.7C681.1,386.4 680.9,376.1 684.3,372.4C686.7,369.7 691.4,370.9 693.9,368.5C696.9,365.6 698.3,360.3 699.7,355.0C701.6,348.0 700.9,336.0 702.6,329.9C703.6,326.2 705.3,321.2 706.5,321.3C708.4,321.5 709.7,337.1 711.3,343.4C712.5,348.2 713.0,355.1 715.1,356.0C716.6,356.6 719.2,354.5 720.9,353.1C722.6,351.7 723.7,347.4 725.2,347.5C726.9,347.6 728.9,352.3 730.4,355.8C732.6,361.1 733.8,370.4 735.7,376.7C737.3,382.1 739.1,387.2 740.9,391.4C742.3,394.6 742.9,398.0 745.1,399.7C747.2,401.4 751.0,400.3 753.4,401.8C755.9,403.4 757.5,407.8 759.7,409.1C761.4,410.1 763.1,410.5 764.9,410.2C767.2,409.8 769.7,407.6 772.2,406.0C775.0,404.2 778.2,402.3 780.6,399.7C783.2,396.9 784.8,392.7 786.9,389.3C788.9,386.1 790.8,380.1 793.1,379.9C795.3,379.7 798.6,384.3 800.5,387.2C802.5,390.2 802.8,394.1 804.6,397.6C806.6,401.4 808.8,405.7 812.0,409.1C815.4,412.7 820.0,415.4 824.5,418.5C829.6,422.0 836.8,425.1 841.2,429.0C844.8,432.2 846.5,435.7 849.6,439.4C853.3,443.9 857.9,450.3 862.1,454.1C865.6,457.2 868.9,460.2 872.6,461.4C875.9,462.4 879.6,462.3 883.0,461.4C886.6,460.4 889.9,456.9 893.5,455.1C896.9,453.4 900.9,451.8 903.9,450.9C906.2,450.3 907.8,450.7 910.0,449.9C913.1,448.8 916.5,445.3 920.4,443.6C924.8,441.7 930.4,439.7 935.1,439.4C939.4,439.2 943.3,440.2 947.6,441.5C952.4,442.9 957.5,446.0 962.2,447.8C966.5,449.4 970.6,451.9 974.8,452.0C979.0,452.1 983.5,450.8 987.3,448.8C991.2,446.7 994.7,443.0 997.8,439.4C1001.0,435.7 1003.0,429.9 1006.1,426.9C1008.7,424.4 1011.5,422.0 1014.5,421.7C1017.7,421.4 1021.4,424.9 1024.9,425.9C1028.3,426.9 1031.8,427.0 1035.4,427.9C1039.4,429.0 1044.2,432.4 1047.9,432.1C1051.0,431.9 1053.4,429.7 1056.3,427.9C1059.7,425.7 1063.0,421.3 1066.7,419.6C1070.0,418.1 1073.8,418.5 1077.2,417.5C1080.7,416.4 1083.9,414.6 1087.6,413.3C1091.6,411.8 1096.9,411.0 1100.2,409.1C1102.8,407.6 1103.9,405.7 1106.3,403.9C1109.3,401.6 1113.1,397.0 1116.7,396.6C1120.1,396.2 1123.7,399.6 1127.2,400.8C1130.6,402.0 1133.8,403.9 1137.6,403.9C1142.1,403.9 1147.8,399.3 1152.2,399.7C1156.1,400.1 1158.7,403.5 1162.7,405.0C1167.5,406.8 1174.5,407.5 1179.4,409.1C1183.4,410.4 1186.4,411.9 1189.9,413.3C1193.4,414.7 1196.8,416.8 1200.3,417.5C1203.7,418.2 1207.3,418.0 1210.8,417.5C1214.3,417.0 1217.5,415.6 1221.2,414.4C1225.7,412.9 1231.3,409.7 1235.8,409.1C1239.5,408.6 1243.3,409.5 1246.3,410.2C1248.7,410.7 1250.2,412.3 1252.6,412.3C1255.6,412.3 1259.5,410.3 1263.0,409.1C1266.5,407.9 1269.5,405.7 1273.5,405.0C1278.3,404.1 1285.4,405.6 1290.0,405.0C1293.3,404.6 1295.3,403.8 1298.4,402.9C1302.2,401.8 1306.7,399.4 1310.9,398.7C1315.0,398.0 1319.8,397.7 1323.4,398.7C1326.6,399.6 1328.7,402.2 1331.8,403.9C1335.5,406.0 1339.9,408.5 1344.3,410.2C1348.9,412.0 1354.9,412.4 1359.0,414.4C1362.3,416.1 1364.9,418.2 1367.3,420.6C1369.7,423.0 1371.0,427.1 1373.6,429.0C1376.0,430.8 1379.3,430.6 1382.0,432.1C1384.9,433.7 1387.1,436.4 1390.3,438.4C1394.0,440.7 1398.7,442.5 1402.9,444.7C1407.1,447.0 1411.2,449.7 1415.4,452.0C1419.5,454.2 1423.3,456.5 1427.9,458.2C1433.0,460.1 1439.5,462.2 1444.7,462.4C1449.2,462.6 1453.0,460.8 1457.2,460.3C1461.6,459.8 1466.4,460.3 1470.5,459.4C1474.3,458.6 1477.4,456.2 1480.9,455.3C1484.3,454.5 1487.9,454.2 1491.4,454.2C1494.9,454.2 1498.4,454.5 1501.8,455.3C1505.4,456.2 1508.8,457.9 1512.3,459.4C1515.8,461.0 1519.2,463.1 1522.7,464.7C1526.2,466.2 1529.7,467.6 1533.2,468.8C1536.7,470.0 1540.1,471.5 1543.6,472.0C1547.1,472.5 1550.3,471.7 1554.1,472.0C1558.6,472.3 1564.1,474.5 1568.7,474.1C1573.1,473.7 1577.4,471.5 1581.3,469.9C1585.0,468.4 1588.3,466.7 1591.7,464.7C1595.3,462.6 1598.6,459.7 1602.2,457.3C1605.9,454.8 1611.8,451.2 1613.7,450.0" fill="none" stroke="#ff0000" stroke-width="5.6" stroke-linejoin="round" stroke-linecap="round"/>
<path d="M154.8,883.5C155.9,882.4 159.8,880.1 161.6,876.7C164.6,870.9 165.2,859.5 166.4,849.7C167.9,838.0 168.3,824.7 169.3,811.1C170.5,795.9 171.6,762.9 173.1,762.9C174.5,762.9 176.6,790.8 178.0,805.4C179.5,820.9 180.2,840.5 181.8,853.6C182.9,862.7 183.0,871.8 185.7,876.7C187.4,879.7 190.6,882.9 192.4,882.5C194.6,882.0 195.3,872.6 197.3,870.9C198.4,869.9 199.8,870.4 201.1,870.0C202.6,869.5 204.7,869.6 205.9,868.0C208.6,864.5 207.5,852.0 208.8,843.9C210.1,835.6 212.2,828.8 213.6,818.9C215.6,804.7 216.7,781.6 218.5,766.8C219.8,755.7 221.5,737.9 222.7,737.9C224.2,738.0 224.9,770.7 226.2,786.1C227.4,800.2 228.7,815.6 230.0,826.6C230.9,834.2 230.6,841.0 232.9,845.9C234.7,849.7 238.2,854.7 240.6,854.5C243.4,854.3 246.1,847.0 248.4,842.0C251.4,835.6 254.2,827.6 256.1,818.9C258.4,808.2 257.3,789.0 259.9,782.2C261.1,779.2 263.0,776.1 264.2,776.4C267.1,777.1 267.4,804.1 269.6,815.0C271.3,823.2 271.7,833.7 275.4,836.2C277.8,837.9 282.3,834.8 285.0,835.3C287.2,835.7 289.4,838.7 290.8,838.1C292.6,837.3 291.8,830.4 293.7,827.5C295.6,824.6 300.0,822.3 302.4,820.8C303.9,819.9 304.7,818.9 306.2,818.9C308.3,818.9 311.8,823.4 313.9,822.7C316.3,822.0 317.2,813.4 319.3,813.1C321.1,812.8 323.7,816.3 325.5,818.9C327.9,822.3 329.0,830.9 331.3,832.4C332.5,833.2 333.9,833.0 335.1,832.4C336.8,831.6 338.6,828.8 340.0,826.6C341.5,824.3 342.7,822.4 343.9,818.9C346.0,812.7 347.7,791.9 349.3,791.9C350.9,791.9 351.9,811.5 353.5,818.9C354.7,824.2 354.8,829.3 357.4,832.4C359.6,835.1 364.6,838.1 367.0,837.2C369.6,836.2 370.1,828.9 371.8,824.6C373.6,820.2 375.2,811.5 377.6,811.1C379.8,810.8 383.0,820.1 385.3,819.8C388.0,819.4 390.2,811.5 392.1,805.4C395.0,795.8 395.8,776.5 397.9,766.8C399.2,760.8 400.8,752.3 402.1,752.3C403.7,752.4 404.7,767.2 406.5,772.6C407.8,776.5 409.4,782.3 410.8,782.2C412.9,782.1 414.8,767.3 417.1,761.0C419.0,755.6 421.5,746.4 423.3,746.5C425.1,746.6 426.6,756.2 427.8,761.0C429.0,765.6 428.7,770.7 430.6,774.5C432.4,778.0 435.6,781.5 438.4,783.2C440.5,784.5 442.8,784.2 445.1,785.1C447.8,786.1 451.3,789.6 453.8,789.0C456.5,788.3 458.4,782.9 460.5,780.3C462.2,778.1 463.7,774.6 465.4,774.5C467.2,774.4 469.2,777.7 471.1,780.3C473.8,784.1 476.2,790.8 478.9,795.7C481.4,800.4 483.6,805.8 486.6,809.2C488.9,811.8 491.6,813.9 494.3,815.0C496.7,816.0 499.5,816.3 502.0,816.0C504.6,815.7 507.1,814.6 509.7,813.1C513.1,811.1 517.1,804.7 520.3,804.4C522.7,804.2 525.1,806.4 527.1,808.3C529.4,810.4 530.8,815.2 532.9,816.9C534.4,818.1 536.4,817.7 537.7,818.9C539.4,820.5 539.9,824.0 541.6,826.6C543.6,829.7 546.5,833.4 549.3,836.2C552.0,838.8 555.2,842.3 558.0,843.0C560.0,843.5 561.8,843.2 563.8,842.0C567.3,839.8 571.4,832.4 574.4,826.6C577.7,820.3 579.1,811.3 582.1,805.4C584.4,800.8 587.2,798.2 589.8,793.8C593.0,788.5 596.1,776.0 599.4,775.5C601.6,775.2 604.2,779.0 606.2,782.2C609.1,786.9 610.0,802.0 612.9,802.5C615.3,802.9 618.6,793.6 621.6,790.9C623.8,788.9 626.3,788.5 628.4,787.0C630.5,785.6 632.5,784.8 634.1,782.2C637.1,777.3 638.0,765.6 639.9,757.1C641.8,748.5 643.3,731.3 645.3,731.1C646.4,731.0 647.7,734.6 648.6,737.9C650.6,745.4 649.9,764.5 651.5,776.4C652.9,786.8 654.1,798.6 657.3,805.4C659.3,809.8 662.4,812.9 665.0,815.0C666.9,816.5 668.9,818.2 670.8,817.9C673.1,817.5 675.6,814.3 677.5,811.1C680.3,806.2 680.9,794.8 683.3,789.9C684.7,786.9 686.0,784.1 688.1,783.2C690.0,782.4 693.1,785.3 694.9,784.1C697.8,782.2 698.0,773.3 699.7,766.8C701.8,758.6 704.4,738.8 706.5,738.8C708.2,738.8 709.3,751.8 711.3,757.1C713.0,761.5 715.2,768.1 717.1,768.7C718.1,769.0 719.0,767.9 720.0,767.0C721.6,765.5 723.2,760.0 725.2,759.7C727.1,759.5 729.9,762.2 731.5,764.9C734.1,769.3 733.8,779.0 735.7,785.8C737.6,792.6 739.2,801.8 743.0,805.7C745.8,808.5 750.2,808.1 753.4,809.9C756.5,811.6 759.0,816.0 761.8,816.1C764.6,816.2 767.4,813.2 770.2,810.9C773.7,808.0 777.5,803.7 780.6,799.4C783.9,794.8 786.3,787.5 789.0,783.8C790.8,781.4 792.3,778.6 794.2,778.5C796.2,778.4 798.7,781.5 800.5,783.8C802.6,786.5 803.3,791.6 805.7,794.2C807.9,796.6 810.9,798.2 814.0,799.4C817.2,800.7 820.8,800.8 824.5,801.5C828.5,802.2 833.0,801.9 837.0,803.6C841.4,805.5 845.3,809.4 849.6,813.0C854.4,817.0 858.9,824.3 864.2,826.6C868.7,828.6 874.0,828.5 878.8,827.6C883.8,826.6 888.3,822.0 893.5,820.3C898.7,818.5 905.1,817.4 910.0,817.2C913.9,817.0 917.1,818.4 920.4,818.2C923.4,818.0 926.2,816.0 928.8,816.1C931.1,816.2 932.8,817.2 935.1,818.2C938.2,819.5 941.7,822.0 945.5,823.5C949.9,825.2 955.5,826.3 960.2,827.6C964.5,828.8 968.7,830.5 972.7,830.8C976.3,831.1 979.8,831.0 983.1,829.7C986.8,828.2 990.2,824.4 993.6,821.4C997.2,818.2 1000.6,814.6 1004.0,810.9C1007.6,807.0 1010.4,799.4 1014.5,798.4C1018.2,797.5 1022.8,802.2 1027.0,803.6C1031.1,805.0 1035.4,805.5 1039.6,806.7C1043.8,807.9 1047.9,811.5 1052.1,810.9C1057.0,810.2 1062.1,802.8 1066.7,800.5C1070.3,798.7 1073.6,798.5 1077.2,797.3C1081.2,796.0 1085.7,794.1 1089.7,793.2C1093.3,792.4 1097.4,793.5 1100.2,792.1C1102.8,790.8 1104.3,788.0 1106.3,785.8C1108.4,783.5 1110.1,780.3 1112.5,778.5C1114.7,776.9 1117.3,775.5 1119.9,775.4C1122.8,775.3 1126.2,777.6 1129.3,778.5C1132.1,779.3 1134.5,780.7 1137.6,780.6C1141.8,780.4 1147.8,775.0 1152.2,775.4C1156.1,775.8 1158.8,779.7 1162.7,781.7C1167.1,783.9 1172.6,785.9 1177.3,787.9C1181.7,789.7 1185.5,791.8 1189.9,793.2C1194.5,794.6 1199.6,796.1 1204.5,796.3C1209.4,796.5 1214.1,795.5 1219.1,794.2C1224.6,792.8 1230.3,788.7 1235.8,787.9C1240.8,787.2 1245.5,789.8 1250.5,789.0C1256.0,788.1 1261.7,783.5 1267.2,781.7C1272.1,780.1 1277.6,779.2 1281.8,778.5C1284.9,778.0 1287.1,778.0 1290.0,777.5C1293.3,777.0 1297.0,776.4 1300.4,775.4C1303.9,774.3 1307.3,771.9 1310.9,771.2C1314.3,770.5 1317.9,770.5 1321.3,771.2C1324.9,771.9 1328.1,774.0 1331.8,775.4C1335.8,776.9 1339.9,778.6 1344.3,779.6C1349.0,780.7 1354.7,780.2 1359.0,781.7C1362.9,783.1 1365.9,785.8 1369.4,787.9C1372.9,790.0 1376.2,792.2 1379.9,794.2C1383.8,796.4 1388.3,798.9 1392.4,800.5C1396.0,801.9 1399.0,802.4 1402.9,803.6C1407.8,805.1 1414.0,807.4 1419.6,808.8C1425.1,810.2 1430.7,811.7 1436.3,812.0C1441.8,812.3 1447.9,811.7 1453.0,810.9C1457.5,810.2 1462.3,808.4 1465.5,807.8C1467.5,807.4 1468.5,807.5 1470.5,807.3C1473.3,807.0 1477.1,806.4 1480.9,806.3C1485.4,806.2 1490.9,806.2 1495.5,807.3C1499.9,808.3 1503.9,810.6 1508.1,812.5C1512.3,814.4 1516.4,816.9 1520.6,818.8C1524.8,820.7 1528.8,822.6 1533.2,824.0C1537.8,825.4 1542.7,826.5 1547.8,827.2C1553.2,827.9 1559.2,828.4 1564.6,828.2C1569.6,828.0 1574.6,827.4 1579.2,826.1C1583.6,824.9 1587.6,822.9 1591.7,820.9C1596.0,818.8 1600.3,816.0 1604.3,813.6C1607.9,811.4 1613.0,808.4 1614.7,807.3" fill="none" stroke="#ff0000" stroke-width="5.6" stroke-linejoin="round" stroke-linecap="round"/>
<rect x="180.5" y="112.6" width="677.7" height="81.8" fill="#fff"/>
<rect x="163.7" y="921.9" width="735.7" height="79.2" fill="#fff"/>
<rect x="323.3" y="512.1" width="614.6" height="139.3" fill="#fff"/>
<rect x="1251.2" y="513.4" width="357" height="143.6" fill="#fff"/>
<text x="204" y="171.3" font-family="'Liberation Sans', Arial, sans-serif" font-size="46.8" font-weight="bold" fill="#000" text-anchor="start" textLength="613" lengthAdjust="spacingAndGlyphs" >Total radiated sound power</text>
<text x="187" y="978.4" font-family="'Liberation Sans', Arial, sans-serif" font-size="45.8" font-weight="bold" fill="#000" text-anchor="start" textLength="680" lengthAdjust="spacingAndGlyphs" >Surface averaged accelerance</text>
<text x="346" y="568.3" font-family="'DejaVu Sans', sans-serif" font-size="39.8" font-weight="normal" fill="#000" text-anchor="start" textLength="536" lengthAdjust="spacingAndGlyphs" stroke="#000" stroke-width="0.45" >Significant ABH panel sound</text>
<text x="346" y="626.5" font-family="'DejaVu Sans', sans-serif" font-size="39.8" font-weight="normal" fill="#000" text-anchor="start" textLength="320" lengthAdjust="spacingAndGlyphs" stroke="#000" stroke-width="0.45" >power reduction</text>
<text x="1273" y="570" font-family="'DejaVu Sans', sans-serif" font-size="39.8" font-weight="normal" fill="#000" text-anchor="start" textLength="299" lengthAdjust="spacingAndGlyphs" stroke="#000" stroke-width="0.45" >ABH broadband</text>
<text x="1273" y="628" font-family="'DejaVu Sans', sans-serif" font-size="39.8" font-weight="normal" fill="#000" text-anchor="start" textLength="206" lengthAdjust="spacingAndGlyphs" stroke="#000" stroke-width="0.45" >absorption</text>
<g stroke="#000" fill="none" stroke-linecap="round" stroke-linejoin="round">
<line x1="288.1" y1="428" x2="288.1" y2="627" stroke-width="8.6" stroke-linecap="butt"/>
<line x1="1233.6" y1="469" x2="1233.6" y2="631" stroke-width="8.6" stroke-linecap="butt"/>
<line x1="292" y1="493.2" x2="1230" y2="494" stroke-width="7.6"/>
<line x1="1234" y1="494.3" x2="1512" y2="494.5" stroke-width="7.6"/>
<polyline points="324,474.6 293.5,493.2 324,510.5" stroke-width="7.6"/>
<polyline points="1198,477 1228,493.5 1198,511.5" stroke-width="7.6"/>
<polyline points="1482,477 1513,494.5 1482,511.5" stroke-width="7.6"/>
</g>
<g fill="none" stroke-linecap="round" stroke-linejoin="round">
<line x1="1273.7" y1="137.5" x2="1181" y2="249.5" stroke="#000" stroke-width="3.4"/>
<polyline points="1183,230.5 1180,251.5 1202,243.5" stroke="#000" stroke-width="3.6"/>
<line x1="1386.4" y1="241.5" x2="1344.5" y2="410" stroke="#f00" stroke-width="3.4"/>
<polyline points="1337.6,391 1344.1,412 1359.3,397" stroke="#f00" stroke-width="3.6"/>
<line x1="965.4" y1="1005.8" x2="905.5" y2="845" stroke="#f00" stroke-width="3.4"/>
<polyline points="901,865.5 904.6,842.5 922,858.2" stroke="#f00" stroke-width="3.6"/>
<line x1="1321.9" y1="914.4" x2="1283" y2="844" stroke="#000" stroke-width="3.6"/>
<polyline points="1282.5,866.6 1281.7,842 1301.8,854.9" stroke="#000" stroke-width="3.8"/>
</g>
<rect x="1147.5" y="56.9" width="379.2" height="79.7" fill="#fff" stroke="#111" stroke-width="2.6"/>
<text x="1166.8" y="113.3" font-family="'Liberation Sans', Arial, sans-serif" font-size="46.4" font-weight="normal" fill="#000" text-anchor="start" textLength="161.6" lengthAdjust="spacingAndGlyphs" stroke="#000" stroke-width="0.5" >Uniform</text>
<text x="1348.1" y="113.3" font-family="'Liberation Sans', Arial, sans-serif" font-size="46.4" font-weight="normal" fill="#000" text-anchor="start" textLength="115.2" lengthAdjust="spacingAndGlyphs" stroke="#000" stroke-width="0.5" >panel</text>
<rect x="1288.4" y="162" width="296.6" height="79.5" fill="#fff" stroke="#f00" stroke-width="2.6"/>
<text x="1306.4" y="218.1" font-family="'Liberation Sans', Arial, sans-serif" font-size="46.4" font-weight="normal" fill="#f00" text-anchor="start" textLength="94.3" lengthAdjust="spacingAndGlyphs" stroke="#f00" stroke-width="0.5" >ABH</text>
<text x="1418.1" y="218.1" font-family="'Liberation Sans', Arial, sans-serif" font-size="46.4" font-weight="normal" fill="#f00" text-anchor="start" textLength="114" lengthAdjust="spacingAndGlyphs" stroke="#f00" stroke-width="0.5" >panel</text>
<rect x="1174.6" y="916" width="378.9" height="79.3" fill="#fff" stroke="#000" stroke-width="2.6"/>
<text x="1193.7" y="972.2" font-family="'Liberation Sans', Arial, sans-serif" font-size="46.4" font-weight="normal" fill="#000" text-anchor="start" textLength="161.6" lengthAdjust="spacingAndGlyphs" stroke="#000" stroke-width="0.5" >Uniform</text>
<text x="1374.9" y="972.2" font-family="'Liberation Sans', Arial, sans-serif" font-size="46.4" font-weight="normal" fill="#000" text-anchor="start" textLength="113.6" lengthAdjust="spacingAndGlyphs" stroke="#000" stroke-width="0.5" >panel</text>
<rect x="900.1" y="1006" width="296.7" height="80.7" fill="#fff" stroke="#f00" stroke-width="2.6"/>
<text x="921.6" y="1061.6" font-family="'Liberation Sans', Arial, sans-serif" font-size="46.4" font-weight="normal" fill="#f00" text-anchor="start" textLength="92.3" lengthAdjust="spacingAndGlyphs" stroke="#f00" stroke-width="0.5" >ABH</text>
<text x="1031.1" y="1061.6" font-family="'Liberation Sans', Arial, sans-serif" font-size="46.4" font-weight="normal" fill="#f00" text-anchor="start" textLength="114.6" lengthAdjust="spacingAndGlyphs" stroke="#f00" stroke-width="0.5" >panel</text>
<text x="121" y="47.3" font-family="'Liberation Sans', Arial, sans-serif" font-size="33.5" font-weight="normal" fill="#000" text-anchor="end" stroke="#000" stroke-width="0.8" >120</text>
<text x="121" y="198.3" font-family="'Liberation Sans', Arial, sans-serif" font-size="33.5" font-weight="normal" fill="#000" text-anchor="end" stroke="#000" stroke-width="0.8" >100</text>
<text x="121" y="352.2" font-family="'Liberation Sans', Arial, sans-serif" font-size="33.5" font-weight="normal" fill="#000" text-anchor="end" stroke="#000" stroke-width="0.8" >80</text>
<text x="121" y="504.1" font-family="'Liberation Sans', Arial, sans-serif" font-size="33.5" font-weight="normal" fill="#000" text-anchor="end" stroke="#000" stroke-width="0.8" >60</text>
<text x="121" y="657.7" font-family="'Liberation Sans', Arial, sans-serif" font-size="33.5" font-weight="normal" fill="#000" text-anchor="end" stroke="#000" stroke-width="0.8" >40</text>
<text x="121" y="809.5" font-family="'Liberation Sans', Arial, sans-serif" font-size="33.5" font-weight="normal" fill="#000" text-anchor="end" stroke="#000" stroke-width="0.8" >20</text>
<text x="121" y="962.8" font-family="'Liberation Sans', Arial, sans-serif" font-size="33.5" font-weight="normal" fill="#000" text-anchor="end" stroke="#000" stroke-width="0.8" >0</text>
<text x="121" y="1116.5" font-family="'Liberation Sans', Arial, sans-serif" font-size="33.5" font-weight="normal" fill="#000" text-anchor="end" stroke="#000" stroke-width="0.8" >-20</text>
<text x="154.4" y="1163.2" font-family="'Liberation Sans', Arial, sans-serif" font-size="33.5" font-weight="normal" fill="#000" text-anchor="middle" textLength="71.5" lengthAdjust="spacingAndGlyphs" stroke="#000" stroke-width="0.8" >2000</text>
<text x="396.8" y="1163.2" font-family="'Liberation Sans', Arial, sans-serif" font-size="33.5" font-weight="normal" fill="#000" text-anchor="middle" textLength="71.5" lengthAdjust="spacingAndGlyphs" stroke="#000" stroke-width="0.8" >3000</text>
<text x="640.5" y="1163.2" font-family="'Liberation Sans', Arial, sans-serif" font-size="33.5" font-weight="normal" fill="#000" text-anchor="middle" textLength="71.5" lengthAdjust="spacingAndGlyphs" stroke="#000" stroke-width="0.8" >4000</text>
<text x="884.6" y="1163.2" font-family="'Liberation Sans', Arial, sans-serif" font-size="33.5" font-weight="normal" fill="#000" text-anchor="middle" textLength="71.5" lengthAdjust="spacingAndGlyphs" stroke="#000" stroke-width="0.8" >5000</text>
<text x="1127.0" y="1163.2" font-family="'Liberation Sans', Arial, sans-serif" font-size="33.5" font-weight="normal" fill="#000" text-anchor="middle" textLength="71.5" lengthAdjust="spacingAndGlyphs" stroke="#000" stroke-width="0.8" >6000</text>
<text x="1370.8" y="1163.2" font-family="'Liberation Sans', Arial, sans-serif" font-size="33.5" font-weight="normal" fill="#000" text-anchor="middle" textLength="71.5" lengthAdjust="spacingAndGlyphs" stroke="#000" stroke-width="0.8" >7000</text>
<text x="1614.2" y="1163.2" font-family="'Liberation Sans', Arial, sans-serif" font-size="33.5" font-weight="normal" fill="#000" text-anchor="middle" textLength="71.5" lengthAdjust="spacingAndGlyphs" stroke="#000" stroke-width="0.8" >8000</text>
<text x="883" y="1213.5" font-family="'Liberation Sans', Arial, sans-serif" font-size="31" font-weight="bold" fill="#000" text-anchor="middle" textLength="225" lengthAdjust="spacingAndGlyphs" stroke="#000" stroke-width="0.3" >Frequency (Hz)</text>
<text x="0" y="0" font-family="'Liberation Sans', Arial, sans-serif" font-size="36" font-weight="bold" fill="#000" text-anchor="middle" textLength="39" lengthAdjust="spacingAndGlyphs" transform="translate(52.6,571.9) rotate(-90)">dB</text>
</svg>
</div></body></html>
